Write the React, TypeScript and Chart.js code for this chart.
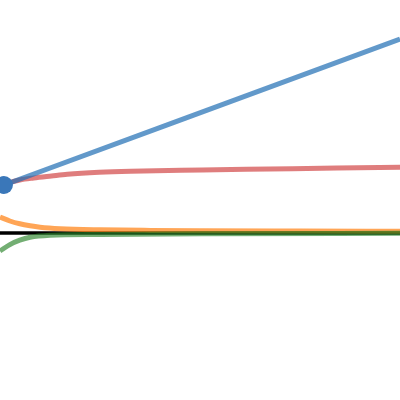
import { useEffect, useRef } from "react"
import { Chart, registerables } from "chart.js"
Chart.register(...registerables)

// x positions (time) and series values
const X_MIN = -1
const X_MAX = 100
const Y_MIN = -8.35
const Y_MAX = 11.65

const blueX = [0, 100]
const blueY = [2.4, 9.7]

const redX = [0, 1.5, 4, 7.5, 12, 16, 24, 32, 50, 67, 84, 100]
const redY = [2.4, 2.525, 2.65, 2.75, 2.85, 2.935, 3.035, 3.09, 3.15, 3.2, 3.25, 3.285]

const orangeX = [-1, 1.5, 4, 6.6, 9.1, 14.2, 24.2, 37, 50, 75, 100]
const orangeY = [0.8, 0.6, 0.46, 0.36, 0.29, 0.215, 0.16, 0.13, 0.115, 0.1, 0.09]

const greenX = [-1, 1.5, 4, 6.6, 11.6, 24.2, 50, 100]
const greenY = [-0.9, -0.58, -0.36, -0.215, -0.115, -0.07, -0.035, -0.015]

const baseX = [-1, 100]
const baseY = [0, 0]

const startX = [0]
const startY = [2.4]

const pts = (xs: number[], ys: number[]) => xs.map((x, i) => ({ x, y: ys[i] }))

function LinesChart() {
  const ref = useRef<HTMLCanvasElement>(null)
  useEffect(() => {
    if (!ref.current) return
    const line = (data: { x: number; y: number }[], color: string, width: number, order: number) => ({
      data,
      borderColor: color,
      borderWidth: width,
      pointRadius: 0,
      borderCapStyle: "butt" as const,
      cubicInterpolationMode: "monotone" as const,
      fill: false,
      order,
    })
    const chart = new Chart(ref.current, {
      type: "line",
      data: {
        datasets: [
          {
            data: pts(startX, startY),
            showLine: false,
            pointRadius: 9,
            pointBackgroundColor: "#3a77b9",
            pointBorderWidth: 0,
            order: 0,
          },
          line(pts(blueX, blueY), "rgba(31,110,180,0.7)", 5, 1),
          line(pts(redX, redY), "rgba(210,70,70,0.7)", 5, 2),
          line(pts(greenX, greenY), "rgba(40,130,40,0.65)", 5, 3),
          line(pts(orangeX, orangeY), "rgba(255,127,14,0.7)", 5, 4),
          line(pts(baseX, baseY), "#000000", 3.5, 5),
        ],
      },
      options: {
        animation: false,
        responsive: false,
        maintainAspectRatio: false,
        layout: { padding: 0, autoPadding: false },
        plugins: { legend: { display: false }, tooltip: { enabled: false } },
        scales: {
          x: { type: "linear", min: X_MIN, max: X_MAX, display: false },
          y: { type: "linear", min: Y_MIN, max: Y_MAX, display: false },
        },
      },
    })
    return () => chart.destroy()
  }, [])
  return <canvas ref={ref} width={400} height={400} style={{ width: 400, height: 400 }} />
}

export default function App() {
  return (
    <div style={{ position: "fixed", left: 0, top: 0, width: 400, height: 400, background: "#fff" }}>
      <LinesChart />
    </div>
  )
}
